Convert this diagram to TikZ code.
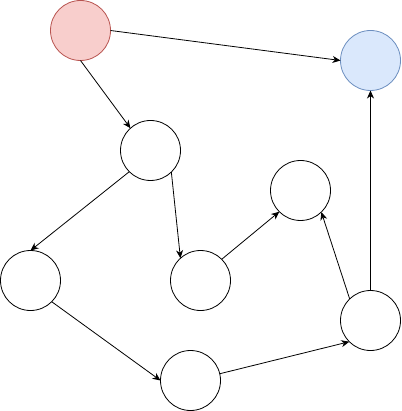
\documentclass[tikz,border=0pt]{standalone}
\usetikzlibrary{arrows.meta}
\definecolor{redfill}{HTML}{F8CECC}
\definecolor{redline}{HTML}{B85450}
\definecolor{bluefill}{HTML}{DAE8FC}
\definecolor{blueline}{HTML}{6C8EBF}
\begin{document}
\begin{tikzpicture}[x=1pt,y=-1pt,
  vertex/.style={circle,draw=black,fill=white,line width=0.8pt,minimum size=60pt,inner sep=0pt,outer sep=0pt},
  startv/.style={vertex,draw=redline,fill=redfill},
  endv/.style={vertex,draw=blueline,fill=bluefill},
  edge/.style={-{Stealth[length=8pt,width=7pt,inset=2.5pt]},line width=0.8pt}]
\useasboundingbox (-0.5,-0.5) rectangle (400.5,410.5);
\node[startv] (r) at (80,30) {};
\node[endv] (b) at (370,60) {};
\node[vertex] (a) at (150,150) {};
\node[vertex] (d) at (300,190) {};
\node[vertex] (l) at (30,280) {};
\node[vertex] (c) at (200,280) {};
\node[vertex] (f) at (370,320) {};
\node[vertex] (e) at (190,380) {};
\draw[edge] (r.east) -- (b.west);
\draw[edge] (r.south) -- (a.132);
\draw[edge] (a.225) -- (l.north);
\draw[edge] (a.314) -- (c.132);
\draw[edge] (c.45) -- (d.225);
\draw[edge] (l.315) -- (e.west);
\draw[edge] (e.13) -- (f.225);
\draw[edge] (f.134) -- (d.314);
\draw[edge] (f.north) -- (b.south);
\end{tikzpicture}
\end{document}
